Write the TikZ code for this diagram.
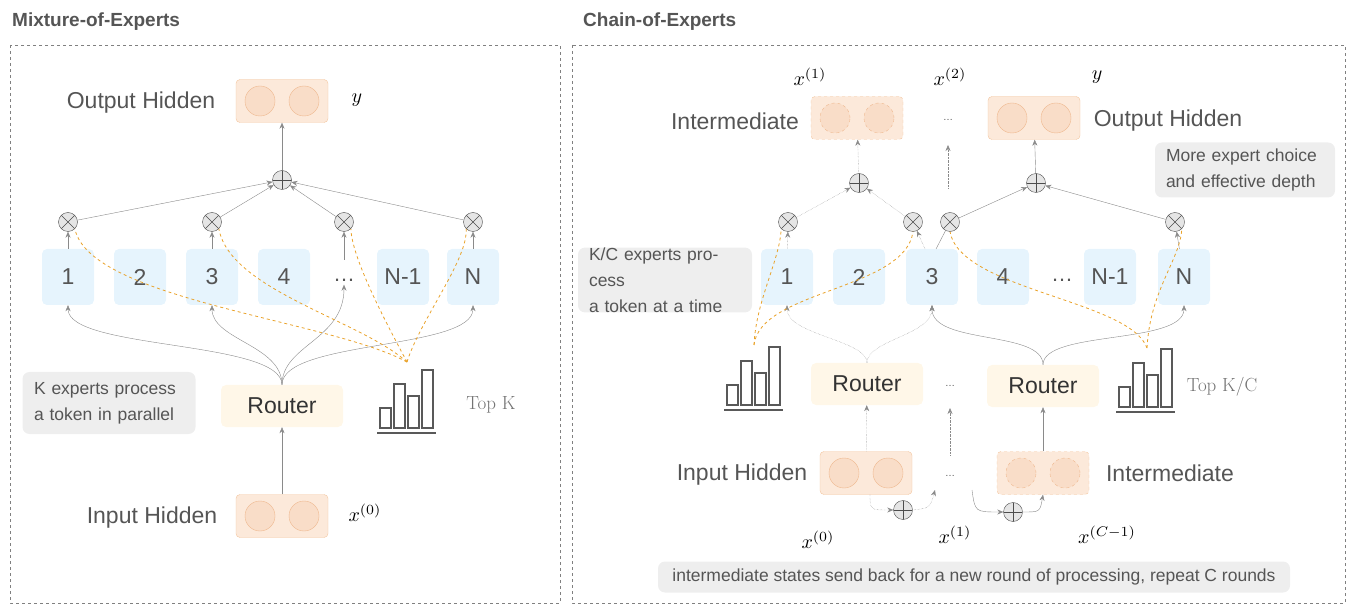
\documentclass[tikz,border=0pt]{standalone}
\usepackage{fontspec}
\setmainfont{Liberation Sans}
\usetikzlibrary{arrows.meta}
\definecolor{txt}{HTML}{555555}
\definecolor{expfill}{HTML}{E6F4FD}
\definecolor{routfill}{HTML}{FFF7E8}
\definecolor{hidfill}{HTML}{FCE9DA}
\definecolor{hiddraw}{HTML}{F3C59E}
\definecolor{cirfill}{HTML}{F9DDC8}
\definecolor{cirdraw}{HTML}{EFB88E}
\definecolor{notefill}{HTML}{EEEEEE}
\definecolor{lin}{HTML}{8A8A8A}
\definecolor{org}{HTML}{E9A22A}
\tikzset{
  lbl/.style={text=txt,font=\fontsize{23}{26}\selectfont,inner sep=0pt},
  expert/.style={fill=expfill,rounded corners=5pt,minimum width=52pt,minimum height=56pt,text=txt,font=\fontsize{23}{26}\selectfont},
  router/.style={fill=routfill,rounded corners=5pt,minimum width=122pt,minimum height=42pt,text=black!80,font=\fontsize{23}{26}\selectfont},
  hid/.style={fill=hidfill,draw=hiddraw,rounded corners=4pt,minimum width=92pt,minimum height=43pt},
  hidd/.style={hid,dashed},
  cir/.style={circle,fill=cirfill,draw=cirdraw,minimum size=30pt,inner sep=0pt},
  cird/.style={cir,dashed},
  note/.style={fill=notefill,rounded corners=7pt,text=txt,align=left,font=\fontsize{17.5}{26}\selectfont,inner sep=0pt},
  op/.style={circle,draw=black!70,fill=black!10,minimum size=19pt,inner sep=0pt},
  otimes/.style={op,path picture={\draw[black!70] (path picture bounding box.north west) -- (path picture bounding box.south east) (path picture bounding box.north east) -- (path picture bounding box.south west);}},
  oplus/.style={op,path picture={\draw[black!70] (path picture bounding box.north) -- (path picture bounding box.south) (path picture bounding box.east) -- (path picture bounding box.west);}},
  ar/.style={draw=lin,-{Stealth[length=6pt,width=5pt]}},
  ard/.style={ar,densely dotted},
  od/.style={draw=org,dashed,thick},
  mth/.style={inner sep=0pt,scale=2},
  topk/.style={text=black!55,font=\fontsize{19}{22}\fontfamily{lmr}\selectfont},
  title/.style={text=txt,font=\bfseries\fontsize{19}{22}\selectfont,anchor=west,inner sep=0pt}
}
\newcommand\barchart[2]{%
  \begin{scope}[shift={(#1,#2)},draw=black!65,line width=1.4pt]
    \draw (0,0) rectangle (11,-20);
    \draw (14,0) rectangle (25,-44);
    \draw (28,0) rectangle (39,-32);
    \draw (42,0) rectangle (53,-58);
    \draw (-3,5) -- (56,5);
  \end{scope}}
\begin{document}
\begin{tikzpicture}[x=1pt,y=-1pt]
\useasboundingbox (0,0) rectangle (1349,609);
% panels
\node[title] at (12,22) {Mixture-of-Experts};
\node[title] at (583,22) {Chain-of-Experts};
\draw[black!50,dashed] (10,45) rectangle (560,603);
\draw[black!50,dashed] (572,45) rectangle (1345,603);

% ---------- Mixture-of-Experts ----------
\node[hid] (out) at (282,101) {};
\node[cir] at (260,101) {}; \node[cir] at (304,101) {};
\node[lbl] at (141,103) {Output Hidden};
\node[mth] at (357,100) {$y$};
\node[oplus] (sum) at (282,180) {};
\foreach \i/\x in {1/68,3/212,d/344,N/473}
  \node[otimes] (m\i) at (\x,222) {};
\foreach \i/\x in {1/68,2/140,3/212,4/284,N-1/403,N/473}
  \node[expert] (e\i) at (\x,277) {\i};
\node[text=txt,font=\fontsize{22}{24}\selectfont] (edots) at (344,280) {\dots};
\node[router] (rt) at (282,406) {Router};
\node[note,minimum width=173pt,minimum height=62pt,text width=150pt] at (109,403) {K experts process\\a token in parallel};
\barchart{380}{428}
\coordinate (bt) at (407,362);
\node[topk] at (491,405) {Top K};
\node[hid] (in) at (282,516) {};
\node[cir] at (260,516) {}; \node[cir] at (304,516) {};
\node[lbl] at (152,518) {Input Hidden};
\node[mth] at (365,513) {$x^{(0)}$};

\draw[ar] (in) -- (rt);
\draw[ar] (sum) -- (out);
\foreach \i in {1,3,d,N} \draw[ar] (m\i) -- (sum);
\foreach \i in {1,3,N} \draw[ar] (e\i) -- (m\i);
\draw[ar] (344,260) -- (md);
\draw[ar] (rt.north) .. controls (282,340) and (68,350) .. (e1.south);
\draw[ar] (rt.north) .. controls (282,345) and (212,340) .. (e3.south);
\draw[ar] (rt.north) .. controls (282,345) and (344,340) .. (edots.south);
\draw[ar] (rt.north) .. controls (282,340) and (473,350) .. (eN.south);
\draw[od] (bt) .. controls (330,320) and (90,300) .. (m1.south east);
\draw[od] (bt) .. controls (360,320) and (230,290) .. (m3.south east);
\draw[od] (bt) .. controls (390,330) and (352,260) .. (md.south east);
\draw[od] (bt) .. controls (420,320) and (468,260) .. (mN.south west);

% ---------- Chain-of-Experts ----------
\node[hidd] (mid1) at (857,118) {};
\node[cird] at (835,118) {}; \node[cird] at (879,118) {};
\node[lbl] at (735,121) {Intermediate};
\node[mth] at (810,77) {$x^{(1)}$};
\node[text=txt] at (948,120) {\dots};
\node[mth] at (950,77) {$x^{(2)}$};
\node[hid] (out2) at (1034,118) {};
\node[cir] at (1012,118) {}; \node[cir] at (1056,118) {};
\node[mth] at (1097,77) {$y$};
\node[lbl] at (1168,121) {Output Hidden};
\node[note,minimum width=180pt,minimum height=55pt,text width=158pt] at (1245,170) {More expert choice\\and effective depth};
\node[oplus] (s1) at (859,183) {};
\node[oplus] (s2) at (1036,183) {};
\node[otimes] (c1) at (788,222) {};
\node[otimes] (c2) at (913,222) {};
\node[otimes] (c3) at (950,222) {};
\node[otimes] (c4) at (1175,222) {};
\foreach \i/\x in {1/787,2/859,3/932,4/1003,N-1/1110,N/1184}
  \node[expert] (f\i) at (\x,277) {\i};
\node[text=txt,font=\fontsize{22}{24}\selectfont] at (1062,280) {\dots};
\node[note,minimum width=174pt,minimum height=60pt,text width=152pt] at (665,280) {K/C experts process\\a token at a time};
\barchart{727}{405}
\coordinate (bl) at (754,345);
\node[router,minimum width=112pt] (r1) at (867,384) {Router};
\node[text=txt] (rdots) at (950,386) {\dots};
\node[router,minimum width=112pt] (r2) at (1043,386) {Router};
\barchart{1119}{407}
\coordinate (br) at (1147,348);
\node[topk] at (1222,387) {Top K/C};
\node[hid] (in2) at (866,473) {};
\node[cir] at (844,473) {}; \node[cir] at (888,473) {};
\node[lbl] at (742,475) {Input Hidden};
\node[text=txt] (idots) at (950,476) {\dots};
\node[hidd] (mid2) at (1043,473) {};
\node[cird] at (1021,473) {}; \node[cird] at (1065,473) {};
\node[lbl] at (1170,473) {Intermediate};
\node[oplus] (p1) at (903,510) {};
\node[oplus] (p2) at (1013,512) {};
\node[mth] at (818,540) {$x^{(0)}$};
\node[mth] at (955,535) {$x^{(1)}$};
\node[mth] at (1107,535) {$x^{(C-1)}$};
\node[note,minimum width=632pt,minimum height=31pt,font=\fontsize{17.5}{20}\selectfont] at (974,577) {intermediate states send back for a new round of processing, repeat C rounds};

% connectors
\draw[ard] (in2) -- (r1);
\draw[ard] (950,455) -- (950,408);
\draw[ar] (mid2) -- (r2);
\draw[ard] (r1.north) .. controls (867,340) and (787,335) .. (f1.south);
\draw[ard] (r1.north) .. controls (867,340) and (932,335) .. (f3.south);
\draw[ar] (r2.north) .. controls (1043,330) and (932,345) .. (f3.south);
\draw[ar] (r2.north) .. controls (1043,330) and (1184,345) .. (fN.south);
\draw[ard] (f1) -- (c1);
\draw[ard] (925,249) -- (c2);
\draw[draw=lin] (936,249) -- (c3);
\draw[ar] (fN) -- (c4);
\draw[ard] (c1) -- (s1);
\draw[ard] (c2) -- (s1);
\draw[ard] (s1) -- (mid1);
\draw[ar] (c3) -- (s2);
\draw[ar] (c4) -- (s2);
\draw[ar] (s2) -- (out2);
\draw[ard] (948,188) -- (948,145);
\draw[od] (bl) .. controls (756,300) and (780,260) .. (c1.south west);
\draw[od] (bl) .. controls (760,290) and (905,290) .. (c2.south);
\draw[od] (br) .. controls (1130,300) and (960,290) .. (c3.south);
\draw[od] (br) .. controls (1150,290) and (1180,260) .. (c4.south east);
\draw[ard] (870,494) .. controls (870,510) .. (p1.west);
\draw[ard] (p1.east) .. controls (930,508) .. (935,490);
\draw[ar] (972,490) .. controls (975,512) .. (p2.west);
\draw[ar] (p2.east) .. controls (1040,512) .. (mid2.south);
\end{tikzpicture}
\end{document}
